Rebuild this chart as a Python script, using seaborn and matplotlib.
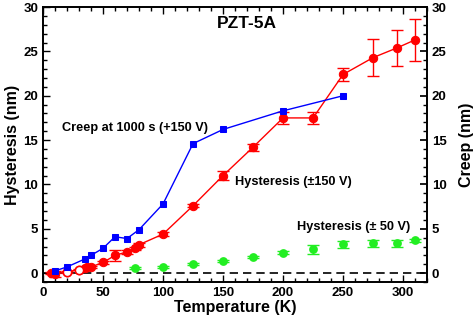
import matplotlib
matplotlib.use("Agg")
import matplotlib.pyplot as plt
from matplotlib.ticker import MultipleLocator
import seaborn as sns
import pandas as pd

# Creep at 1000 s (+150 V)
creep_T = [10, 20, 35, 40, 50, 60, 70, 80, 100, 125, 150, 200, 250]
creep_y = [0.25, 0.7, 1.6, 2.0, 2.8, 4.1, 3.9, 4.9, 7.8, 14.6, 16.2, 18.3, 20.0]

# Hysteresis (±150 V)
h150_T = [7, 10, 20, 30, 35, 37, 40, 50, 60, 70, 77, 80, 100, 125, 150, 175, 200, 225, 250, 275, 295, 310]
h150_y = [0.05, -0.1, 0.15, 0.4, 0.6, 0.7, 0.7, 1.2, 2.0, 2.4, 2.8, 3.2, 4.4, 7.6, 11.0, 14.2, 17.5, 17.5, 22.4, 24.3, 25.4, 26.3]
h150_err = [0.1, 0.3, 0.1, 0.1, 0.1, 0.1, 0.1, 0.2, 0.6, 0.2, 0.2, 0.2, 0.2, 0.2, 0.5, 0.4, 0.7, 0.7, 0.75, 2.05, 2.05, 2.35]
h150_open_T = [20, 30]
h150_open_y = [0.15, 0.4]

# Hysteresis (±50 V)
h50_T = [77, 100, 125, 150, 175, 200, 225, 250, 275, 295, 310]
h50_y = [0.55, 0.7, 1.0, 1.35, 1.8, 2.3, 2.7, 3.25, 3.35, 3.35, 3.7]
h50_err = [0.1, 0.1, 0.1, 0.1, 0.1, 0.15, 0.5, 0.4, 0.4, 0.4, 0.2]

sns.set_theme(style="white")
plt.rcParams['font.family'] = ['Liberation Sans', 'DejaVu Sans']
plt.rcParams['font.weight'] = 'bold'
plt.rcParams['text.color'] = 'black'
plt.rcParams['axes.labelcolor'] = 'black'
plt.rcParams['xtick.color'] = 'black'
plt.rcParams['ytick.color'] = 'black'
plt.rcParams['axes.edgecolor'] = 'black'

fig = plt.figure(figsize=(4.74, 3.21), dpi=100)
ax = fig.add_axes([0.0907, 0.1215, 0.8103, 0.8565])

red = "#ff0000"
blue = "#0000ff"
green = "#22ee22"

df_c = pd.DataFrame({"T": creep_T, "y": creep_y})
df_h = pd.DataFrame({"T": h150_T, "y": h150_y})
df_g = pd.DataFrame({"T": h50_T, "y": h50_y})

ax.axhline(0, color="black", linestyle=(0, (5, 3)), linewidth=1.2, zorder=1)

sns.lineplot(data=df_h, x="T", y="y", ax=ax, color=red, linewidth=1.0, sort=False,
             marker="o", markersize=6, markeredgecolor=red, markerfacecolor=red, zorder=3)
ax.errorbar(h150_T, h150_y, yerr=h150_err, fmt="none", ecolor=red, elinewidth=1.0,
            capsize=4, capthick=1.0, zorder=3)
ax.plot(h150_open_T, h150_open_y, linestyle="none", marker="o", markersize=6,
        markerfacecolor="white", markeredgecolor=red, markeredgewidth=1.2, zorder=4)

sns.lineplot(data=df_c, x="T", y="y", ax=ax, color=blue, linewidth=1.0, sort=False,
             marker="s", markersize=5, markeredgecolor=blue, markerfacecolor=blue, zorder=4)

sns.scatterplot(data=df_g, x="T", y="y", ax=ax, color=green, marker="o", s=40,
                edgecolor=green, linewidth=0, zorder=3)
ax.errorbar(h50_T, h50_y, yerr=h50_err, fmt="none", ecolor=green, elinewidth=1.0,
            capsize=4, capthick=1.0, zorder=3)

ax.set_xlim(0, 320)
ax.set_ylim(-1, 30)
ax.xaxis.set_major_locator(MultipleLocator(50))
ax.xaxis.set_minor_locator(MultipleLocator(10))
ax.yaxis.set_major_locator(MultipleLocator(5))
ax.yaxis.set_minor_locator(MultipleLocator(1))
ax.tick_params(which="both", direction="in", top=True, right=False, left=True, bottom=True,
               labelsize=9.5, width=1, color="black", labelcolor="black")
ax.tick_params(which="major", length=5)
ax.tick_params(which="minor", length=3)
for lbl in ax.get_xticklabels() + ax.get_yticklabels():
    lbl.set_fontweight("bold")
for s in ax.spines.values():
    s.set_color("black")
    s.set_linewidth(1.2)

ax.set_xlabel("Temperature (K)", fontsize=11.5, fontweight="bold", labelpad=1, color="black")
ax.set_ylabel("Hysteresis (nm)", fontsize=11.5, fontweight="bold", labelpad=2, color="black")

ax2 = ax.twinx()
ax2.set_ylim(-1, 30)
ax2.yaxis.set_major_locator(MultipleLocator(5))
ax2.yaxis.set_minor_locator(MultipleLocator(1))
ax2.tick_params(which="both", direction="in", right=True, labelsize=9.5, color="black",
                labelcolor="black")
ax2.tick_params(which="major", length=5)
ax2.tick_params(which="minor", length=3)
for lbl in ax2.get_yticklabels():
    lbl.set_fontweight("bold")
ax2.set_ylabel("Creep (nm)", fontsize=11.5, fontweight="bold", labelpad=9, color="black")
ax2.grid(False)
ax.grid(False)

ax.text(170, 28.2, "PZT-5A", fontsize=12.5, fontweight="bold", ha="center", va="center", color="black")
ax.text(16, 16.4, "Creep at 1000 s (+150 V)", fontsize=9.2, fontweight="bold", ha="left", va="center", color="black")
ax.text(160, 10.3, "Hysteresis (\u00b1150 V)", fontsize=9.2, fontweight="bold", ha="left", va="center", color="black")
ax.text(212, 5.2, "Hysteresis (\u00b1 50 V)", fontsize=9.2, fontweight="bold", ha="left", va="center", color="black")

fig.savefig("out.png", dpi=100)
